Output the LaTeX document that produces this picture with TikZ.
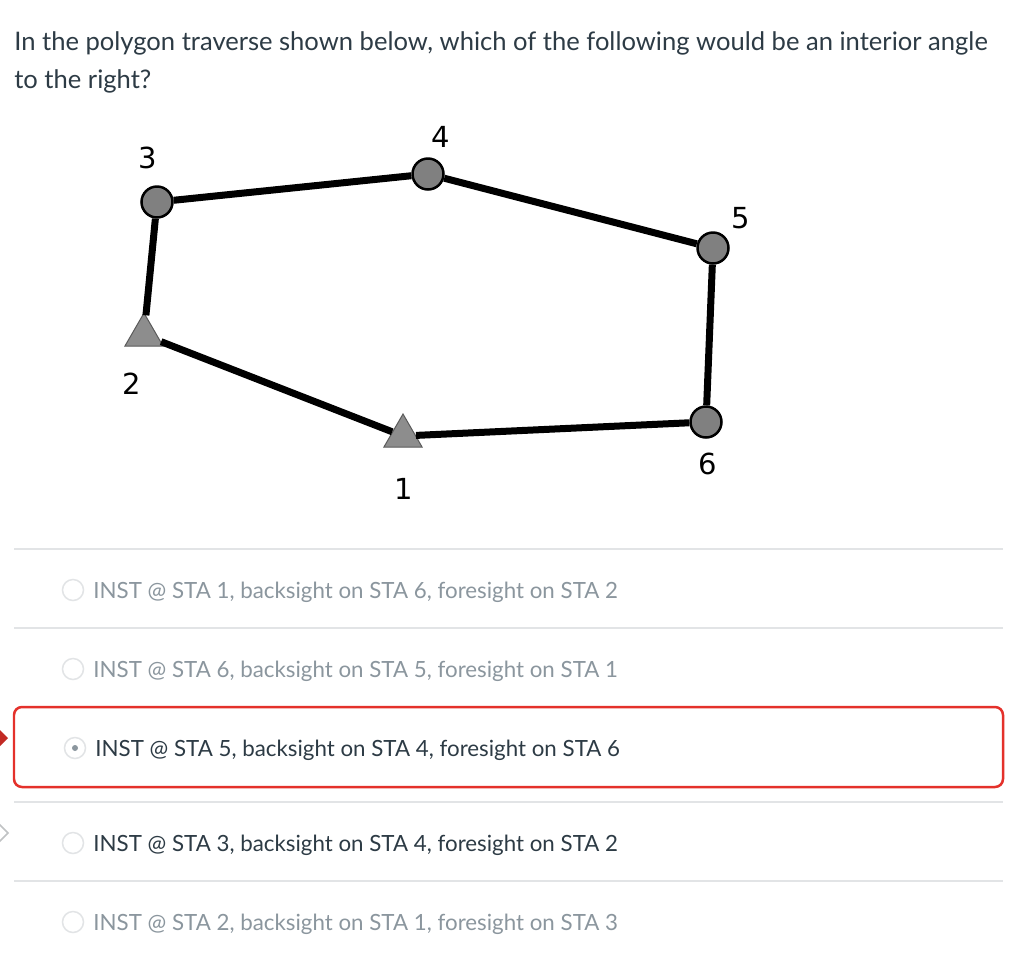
\documentclass[tikz,border=0pt]{standalone}
\usepackage{fontspec}
\setmainfont{Lato}
\newfontfamily\numfont{DejaVu Sans}
\usetikzlibrary{shapes.geometric}
\definecolor{textdark}{HTML}{2D3B45}
\definecolor{textgray}{HTML}{8B969E}
\definecolor{rulegray}{HTML}{E2E4E6}
\definecolor{markred}{HTML}{E4312B}
\definecolor{stagray}{HTML}{808080}

\begin{document}
\begin{tikzpicture}[
    x=0.02cm,
    y=-0.02cm,
    station/.style={
        circle,
        inner sep=0pt,
        minimum size=0.62cm,
        fill=stagray,
        draw=black,
        line width=0.05cm,
    },
    setup/.style={
        regular polygon,
        regular polygon sides=3,
        inner sep=0pt,
        minimum size=0.88cm,
        fill=stagray!90!white,
        draw=stagray!70!black,
        line width=0.02cm,
    },
    leg/.style={
        line width=0.14cm,
    },
    stalabel/.style={
        font=\numfont\fontsize{16.5}{18}\selectfont,
    },
    choice/.style={
        anchor=base west,
        inner sep=0pt,
        font=\fontsize{12.7}{14}\selectfont,
    },
    radio/.style={
        circle,
        inner sep=0pt,
        minimum size=0.42cm,
        draw=rulegray,
        line width=0.03cm,
    },
]
    \useasboundingbox[fill=white] (0,0) rectangle (1024,954);

    % question
    \node[anchor=base west,inner sep=0pt,text=textdark,font=\fontsize{14.55}{16}\selectfont] (q1) at (14,50)
        {In the polygon traverse shown below, which of the following would be an interior angle};
    \node[anchor=base west,inner sep=0pt,text=textdark,font=\fontsize{14.55}{16}\selectfont] (q2) at (14,88)
        {to the right?};

    % traverse
    \node[setup] (s1) at (403,436) {};
    \node[setup] (s2) at (144,335) {};
    \node[station] (s3) at (157,202) {};
    \node[station] (s4) at (428,174) {};
    \node[station] (s5) at (713,248) {};
    \node[station] (s6) at (706,422) {};

    \foreach \a/\b in {1/2,2/3,3/4,4/5,5/6,6/1} {
        \draw[leg] (s\a) -- (s\b);
    }

    \node[stalabel] (l1) at (404,489) {1};
    \node[stalabel] (l2) at (132,384) {2};
    \node[stalabel] (l3) at (148,158) {3};
    \node[stalabel] (l4) at (441,137) {4};
    \node[stalabel] (l5) at (741,218) {5};
    \node[stalabel] (l6) at (708,464) {6};

    % separators
    \foreach \y in {549,628,802,881} {
        \draw[rulegray,line width=0.03cm] (14,\y) -- (1003,\y);
    }

    % selected answer
    \draw[markred,line width=0.05cm,rounded corners=0.16cm] (14,707) rectangle (1003,787);
    \fill[markred!85!black] (-4,726) -- (8,738) -- (-4,750) -- (-16,738) -- cycle;
    \draw[rulegray!85!black,fill=white,line width=0.03cm] (-4,821) -- (8,833) -- (-4,845) -- (-16,833) -- cycle;

    % answers
    \foreach \txt/\x/\y/\col [count=\i] in {
        {INST @ STA 1, backsight on STA 6, foresight on STA 2}/73/590/textgray,
        {INST @ STA 6, backsight on STA 5, foresight on STA 1}/73/669/textgray,
        {INST @ STA 5, backsight on STA 4, foresight on STA 6}/75/748/textdark,
        {INST @ STA 3, backsight on STA 4, foresight on STA 2}/73/843/textdark,
        {INST @ STA 2, backsight on STA 1, foresight on STA 3}/73/922/textgray} {
        \node[radio] (r\i) at (\x,\y) {};
        \node[choice,text=\col] (a\i) at (\x+20,\y+8) {\txt};
    }
    \fill[textgray] (r3) circle (0.06cm);
\end{tikzpicture}
\end{document}
